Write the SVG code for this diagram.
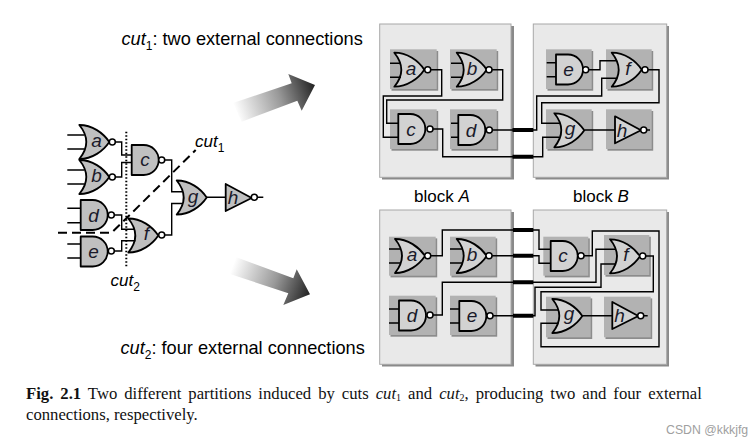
<svg xmlns="http://www.w3.org/2000/svg" width="756" height="445" viewBox="0 0 756 445">
<style>
.g{stroke:#000;stroke-width:1.8;stroke-linejoin:round}
.dk{fill:#c0c0c0}
.lt{fill:#d2d2d2}
.bub{fill:#fff;stroke:#000;stroke-width:1.5}
.w{fill:none;stroke:#000;stroke-width:1.4}
.th{fill:none;stroke:#000;stroke-width:4}
.sq{fill:#b2b2b2}
.sh{fill:#8c8c8c}
.pn{fill:#e9e9e9;stroke:#a8a8a8;stroke-width:1}
.ps{fill:#8a8a8a}
.l{font:italic 19px "Liberation Sans",Arial,sans-serif;fill:#1a1a2a;text-anchor:middle}
.t{font:18.200px "Liberation Sans",Arial,sans-serif;fill:#000}
.u{font:17px "Liberation Sans",Arial,sans-serif;fill:#000}
.i{font-style:italic}
.s{font-size:12px}
.c{font:16.700px "Liberation Serif","Times New Roman",serif;fill:#111}
</style>
<defs>
<path id="or" d="M0 0C13 0 24 8 30 17C24 26 13 34 0 34Q14 17 0 0Z"/>
<path id="and" d="M0 0H12A15 15 0 0 1 12 30H0Z"/>
<path id="not" d="M0 0L26 14L0 27Z"/>
<linearGradient id="ar1" gradientUnits="userSpaceOnUse" x1="236" y1="112" x2="315" y2="85">
<stop offset="0" stop-color="#fff"/><stop offset="0.55" stop-color="#999"/><stop offset="1" stop-color="#222"/>
</linearGradient>
<linearGradient id="ar2" gradientUnits="userSpaceOnUse" x1="233" y1="265" x2="310" y2="294">
<stop offset="0" stop-color="#fff"/><stop offset="0.55" stop-color="#999"/><stop offset="1" stop-color="#222"/>
</linearGradient>
</defs>
<rect width="756" height="445" fill="#fff"/>

<g id="arrows">
<path d="M233 103L291.700 83.300L288.300 74L315 85L301.700 110.700L297.300 100.700L241.700 121.700Z" fill="url(#ar1)"/>
<path d="M235 256.700L293.300 278.300L296.700 269.300L310 294.300L283.300 305L288.300 293.300L230 274Z" fill="url(#ar2)"/>
</g>

<g id="panels">
<rect class="ps" x="382" y="26" width="132" height="153.500"/>
<rect class="pn" x="379.700" y="24" width="131.300" height="153.300"/>
<rect class="ps" x="535.500" y="26" width="133.500" height="153.500"/>
<rect class="pn" x="533.300" y="24" width="133.400" height="153.300"/>
<rect class="ps" x="382" y="212" width="132" height="154.500"/>
<rect class="pn" x="379.700" y="210" width="131.300" height="154.300"/>
<rect class="ps" x="535.500" y="212" width="133.500" height="154.500"/>
<rect class="pn" x="533.300" y="210" width="133.400" height="154.300"/>
</g>

<g id="left-a"><use href="#or" x="79.300" y="125" class="g dk"/><circle cx="112.300" cy="142" r="3" class="bub"/><text x="96.500" y="147" class="l">a</text></g>
<g id="left-b"><use href="#or" x="79.300" y="160" class="g dk"/><circle cx="112.300" cy="177" r="3" class="bub"/><text x="96.500" y="182" class="l">b</text></g>
<g id="left-c"><use href="#and" x="131.700" y="145" class="g dk"/><circle cx="161.700" cy="160" r="3" class="bub"/><text x="145" y="166" class="l">c</text></g>
<g id="left-d"><use href="#and" x="80.700" y="200" class="g dk"/><circle cx="111.300" cy="215" r="3" class="bub"/><text x="93.500" y="222" class="l">d</text></g>
<g id="left-e"><use href="#and" x="80.700" y="236.500" class="g dk"/><circle cx="111.300" cy="251" r="3" class="bub"/><text x="93.500" y="258" class="l">e</text></g>
<g id="left-f"><use href="#or" x="128.300" y="218.500" class="g dk"/><circle cx="161.700" cy="235" r="3" class="bub"/><text x="146.500" y="240" class="l">f</text></g>
<g id="left-g"><use href="#or" x="176.700" y="180.500" class="g dk"/><text x="193" y="203" class="l">g</text></g>
<g id="left-h"><use href="#not" x="225.700" y="184" class="g dk"/><circle cx="254.300" cy="197.300" r="3" class="bub"/><text x="233" y="204" class="l">h</text></g>

<g id="top-a"><rect class="sh" x="391.500" y="51" width="46.700" height="39.700"/><rect class="sq" x="390" y="49.300" width="46.700" height="39.700"/><use href="#or" x="394.300" y="52.700" class="g lt"/><circle cx="427.700" cy="69.700" r="3" class="bub"/><text x="411" y="75" class="l">a</text></g>
<g id="top-b"><rect class="sh" x="451.500" y="51" width="46.700" height="39.700"/><rect class="sq" x="450" y="49.300" width="46.700" height="39.700"/><use href="#or" x="456.700" y="52.700" class="g lt"/><circle cx="489" cy="69.700" r="3" class="bub"/><text x="472" y="75" class="l">b</text></g>
<g id="top-c"><rect class="sh" x="391.500" y="111" width="46.700" height="39.700"/><rect class="sq" x="390" y="109.300" width="46.700" height="39.700"/><use href="#and" x="398.300" y="114" class="g lt"/><circle cx="430" cy="129" r="3" class="bub"/><text x="411" y="136" class="l">c</text></g>
<g id="top-d"><rect class="sh" x="451.500" y="111" width="46.700" height="39.700"/><rect class="sq" x="450" y="109.300" width="46.700" height="39.700"/><use href="#and" x="458.300" y="115" class="g lt"/><circle cx="489.300" cy="130" r="3" class="bub"/><text x="471" y="137" class="l">d</text></g>
<g id="top-e"><rect class="sh" x="547.500" y="51" width="45.700" height="39.700"/><rect class="sq" x="546" y="49.300" width="45.700" height="39.700"/><use href="#and" x="556" y="54.500" class="g lt"/><circle cx="585.700" cy="69.700" r="3" class="bub"/><text x="568.500" y="76" class="l">e</text></g>
<g id="top-f"><rect class="sh" x="607.500" y="51" width="45.700" height="39.700"/><rect class="sq" x="606" y="49.300" width="45.700" height="39.700"/><use href="#or" x="611.700" y="52.700" class="g lt"/><circle cx="645" cy="69.700" r="3" class="bub"/><text x="628" y="75" class="l">f</text></g>
<g id="top-g"><rect class="sh" x="547.500" y="111" width="45.700" height="39.700"/><rect class="sq" x="546" y="109.300" width="45.700" height="39.700"/><use href="#or" x="554.300" y="113.300" class="g lt"/><text x="570" y="135" class="l">g</text></g>
<g id="top-h"><rect class="sh" x="607.500" y="111" width="45.700" height="39.700"/><rect class="sq" x="606" y="109.300" width="45.700" height="39.700"/><use href="#not" x="615" y="116.300" class="g lt"/><circle cx="643.700" cy="130" r="3" class="bub"/><text x="622" y="137" class="l">h</text></g>

<g id="bottom-a"><rect class="sh" x="390.500" y="238.400" width="46.700" height="39"/><rect class="sq" x="389" y="236.700" width="46.700" height="39"/><use href="#or" x="395" y="239" class="g lt"/><circle cx="427.700" cy="255.700" r="3" class="bub"/><text x="412" y="261" class="l">a</text></g>
<g id="bottom-b"><rect class="sh" x="451.500" y="238.400" width="45.700" height="39"/><rect class="sq" x="450" y="236.700" width="45.700" height="39"/><use href="#or" x="456.700" y="239" class="g lt"/><circle cx="489" cy="255.700" r="3" class="bub"/><text x="472" y="261" class="l">b</text></g>
<g id="bottom-d"><rect class="sh" x="390.500" y="297.400" width="46.700" height="39.300"/><rect class="sq" x="389" y="295.700" width="46.700" height="39.300"/><use href="#and" x="399" y="300.500" class="g lt"/><circle cx="430" cy="315" r="3" class="bub"/><text x="412" y="322" class="l">d</text></g>
<g id="bottom-e"><rect class="sh" x="451.500" y="297.400" width="45.700" height="39.300"/><rect class="sq" x="450" y="295.700" width="45.700" height="39.300"/><use href="#and" x="459.300" y="301" class="g lt"/><circle cx="490" cy="315.700" r="3" class="bub"/><text x="472" y="322" class="l">e</text></g>
<g id="bottom-c"><rect class="sh" x="544.800" y="238.400" width="45" height="39"/><rect class="sq" x="543.300" y="236.700" width="45" height="39"/><use href="#and" x="550.700" y="241" class="g lt"/><circle cx="581" cy="255.700" r="3" class="bub"/><text x="563" y="262" class="l">c</text></g>
<g id="bottom-f"><rect class="sh" x="605.500" y="236.700" width="45.300" height="40"/><rect class="sq" x="604" y="235" width="45.300" height="40"/><use href="#or" x="610" y="239.300" class="g lt"/><circle cx="642.700" cy="256" r="3" class="bub"/><text x="626" y="261" class="l">f</text></g>
<g id="bottom-g"><rect class="sh" x="547.500" y="298.400" width="44.700" height="40.600"/><rect class="sq" x="546" y="296.700" width="44.700" height="40.600"/><use href="#or" x="552.300" y="299" class="g lt"/><text x="569" y="320" class="l">g</text></g>
<g id="bottom-h"><rect class="sh" x="605.500" y="298.400" width="46.700" height="40.600"/><rect class="sq" x="604" y="296.700" width="46.700" height="40.600"/><use href="#not" x="612.300" y="302" class="g lt"/><circle cx="640.700" cy="315.700" r="3" class="bub"/><text x="619.500" y="322" class="l">h</text></g>

<g id="connectors">
<path class="w" d="M67.300 135H84.500M67.300 149H84.500M67.300 170H84.500M67.300 184H84.500M67.300 208.300H80.700M67.300 222.700H80.700M67.300 244H80.700M67.300 258H80.700"/>
<path class="w" d="M115.300 142H121.700V155H131.700M115.300 177H121.700V162.500H131.700M164.700 160H171.700V191.700H182M164.700 235H171.700V203.500H182M206.700 197.300H225.700M257.300 197.300H263.300"/>
<path class="w" d="M114.300 215H121.700V229.300H134M114.300 251H121.700V240.700H135.500"/>
<path d="M126.300 131.700V267.300" fill="none" stroke="#000" stroke-width="2" stroke-dasharray="1.500 2"/>
<path d="M58 232.700H111.700L195.700 150" fill="none" stroke="#000" stroke-width="2" stroke-dasharray="9 5"/>

<path class="w" d="M390 63.300H401M390 77.300H401M451 63.300H462.300M451 77.300H462.300"/>
<path class="w" d="M451 123.300H458.300M451 137.300H458.300M546.700 62.700H556M546.700 76.700H556"/>
<path class="w" d="M430.700 69.700H441.700V96H383.300V137.300H398.300M492 69.700H502.700V100H386.700V123.300H398.300M433 129H442.700V156.700H533.300M492.300 130H536.700V96H601.700V78.300H617M533.300 156.700H542.700V137.300H559M588.700 69.700H600V60.700H616.500M648 69.700H659V102.700H541.700V123.300H560M585 130H615M646.700 130H650"/>
<path class="th" d="M512.500 130H533.300M512.500 156.700H533.300"/>

<path class="w" d="M389 249H400.500M389 263H400.500M450 249H462M450 263H462M389 309H399M389 323H399M450 309H459.300M450 323H459.300"/>
<path class="w" d="M430.700 255.700H442.300V230H539V249.300H550.700M492 255.700H539V263.300H550.700M433 315H442.300V282.300H596V249.300H615M493 315.700H535V287.300H601V264H615"/>
<path class="w" d="M584 255.700H592.300V231H659V346.700H541V323.300H558.500M645.700 256H653.300V291.700H541V310H558.500M582.300 315.700H612.300M643.700 315.700H647.700"/>
<path class="th" d="M513 230H533.300M513 255.700H533.300M513 282.300H533.300M513 315.700H533.300"/>
</g>

<g id="labels">
<text class="u" x="195" y="147"><tspan class="i">cut</tspan><tspan class="s" dy="5">1</tspan></text>
<text class="u" x="110.500" y="286"><tspan class="i">cut</tspan><tspan class="s" dy="5">2</tspan></text>
<text class="t" x="121.500" y="45"><tspan class="i">cut</tspan><tspan class="s" dy="5">1</tspan><tspan dy="-5">: two external connections</tspan></text>
<text class="t" x="120.500" y="354"><tspan class="i">cut</tspan><tspan class="s" dy="5">2</tspan><tspan dy="-5">: four external connections</tspan></text>
<text class="u" x="414" y="202">block <tspan class="i">A</tspan></text>
<text class="u" x="573" y="202">block <tspan class="i">B</tspan></text>
</g>

<g id="caption">
<text class="c" x="26" y="399" word-spacing="2.8"><tspan font-weight="bold">Fig. 2.1</tspan> Two different partitions induced by cuts <tspan font-style="italic">cut</tspan><tspan font-size="10" dy="2">1</tspan><tspan dy="-2"> and </tspan><tspan font-style="italic">cut</tspan><tspan font-size="10" dy="2">2</tspan><tspan dy="-2">, producing two and four external</tspan></text>
<text class="c" x="26" y="420">connections, respectively.</text>
<text x="666" y="433.500" font-family="Liberation Sans,Arial,sans-serif" font-size="12.300" fill="#a0a0a0">CSDN @kkkjfg</text>
</g>
</svg>
